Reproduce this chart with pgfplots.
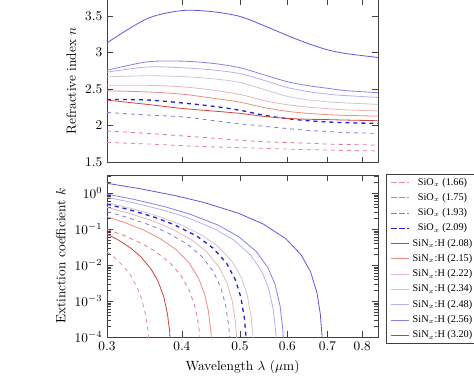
\documentclass[border=0pt]{standalone}
\usepackage{fontspec}
\usepackage{pgfplots}
\pgfplotsset{compat=1.18}
\newfontfamily\legfont{Liberation Serif}
\definecolor{cA}{RGB}{232,135,155}
\definecolor{cB}{RGB}{226,118,138}
\definecolor{cC}{RGB}{125,125,225}
\definecolor{cD}{RGB}{35,35,210}
\definecolor{cE}{RGB}{210,65,60}
\definecolor{cF}{RGB}{236,140,135}
\definecolor{cG}{RGB}{236,180,185}
\definecolor{cH}{RGB}{205,198,215}
\definecolor{cI}{RGB}{178,178,238}
\definecolor{cJ}{RGB}{130,130,232}
\definecolor{cK}{RGB}{90,90,222}
\begin{document}
\begin{tikzpicture}
\useasboundingbox (0,0) rectangle (355.5pt,286.5pt);
% top panel: refractive index
\begin{axis}[xmode=log, scale only axis, width=203.25pt, xmin=0.3, xmax=0.85,
  xtick={0.3,0.4,0.5,0.6,0.7,0.8}, minor xtick={},
  axis line style={black!75}, tick style={black!75},
  every axis plot/.append style={line width=0.6pt},
  at={(80.25pt,164.8pt)}, anchor=south west, height=122pt,
  ymin=1.5, ymax=3.72, ytick={1.5,2,2.5,3,3.5}, xticklabels={},
  ylabel={Refractive index $n$}]
\addplot[cA, dashed, smooth] coordinates {(0.3,1.77)(0.35,1.75)(0.4,1.727)(0.45,1.71)(0.5,1.70)(0.55,1.69)(0.6,1.68)(0.65,1.672)(0.7,1.667)(0.75,1.661)(0.85,1.655)};
\addplot[cB, dashed, smooth] coordinates {(0.3,1.926)(0.35,1.895)(0.4,1.86)(0.45,1.83)(0.5,1.80)(0.55,1.78)(0.6,1.77)(0.65,1.76)(0.7,1.748)(0.75,1.743)(0.85,1.735)};
\addplot[cC, dashed, smooth] coordinates {(0.3,2.18)(0.35,2.145)(0.4,2.12)(0.45,2.07)(0.5,2.025)(0.55,1.99)(0.6,1.96)(0.65,1.935)(0.7,1.92)(0.75,1.905)(0.85,1.895)};
\addplot[cD, dashed, smooth, line width=1pt] coordinates {(0.3,2.357)(0.35,2.35)(0.4,2.31)(0.45,2.265)(0.5,2.21)(0.55,2.14)(0.6,2.095)(0.65,2.067)(0.7,2.05)(0.75,2.04)(0.85,2.03)};
\addplot[cE, smooth] coordinates {(0.3,2.348)(0.35,2.29)(0.4,2.235)(0.45,2.20)(0.5,2.167)(0.55,2.125)(0.6,2.098)(0.65,2.087)(0.7,2.082)(0.75,2.076)(0.85,2.067)};
\addplot[cF, smooth] coordinates {(0.3,2.475)(0.35,2.46)(0.4,2.43)(0.45,2.375)(0.5,2.32)(0.55,2.245)(0.6,2.195)(0.65,2.167)(0.7,2.15)(0.75,2.14)(0.85,2.13)};
\addplot[cG, smooth] coordinates {(0.3,2.55)(0.35,2.55)(0.4,2.53)(0.45,2.485)(0.5,2.425)(0.55,2.34)(0.6,2.285)(0.65,2.252)(0.7,2.232)(0.75,2.215)(0.85,2.20)};
\addplot[cH, smooth] coordinates {(0.3,2.666)(0.35,2.68)(0.4,2.67)(0.45,2.64)(0.5,2.59)(0.55,2.49)(0.6,2.40)(0.65,2.352)(0.7,2.325)(0.75,2.31)(0.85,2.29)};
\addplot[cI, smooth] coordinates {(0.3,2.73)(0.35,2.80)(0.4,2.79)(0.45,2.76)(0.5,2.71)(0.55,2.615)(0.6,2.52)(0.65,2.465)(0.7,2.43)(0.75,2.41)(0.85,2.385)};
\addplot[cJ, smooth] coordinates {(0.3,2.756)(0.35,2.87)(0.4,2.88)(0.45,2.85)(0.5,2.79)(0.55,2.69)(0.6,2.60)(0.65,2.545)(0.7,2.51)(0.75,2.478)(0.85,2.45)};
\addplot[cK, smooth] coordinates {(0.3,3.13)(0.35,3.46)(0.4,3.57)(0.45,3.555)(0.5,3.49)(0.55,3.36)(0.6,3.23)(0.65,3.12)(0.7,3.035)(0.75,2.985)(0.85,2.93)};
\end{axis}
% bottom panel: extinction coefficient
\begin{axis}[xmode=log, ymode=log, scale only axis, width=203.25pt, xmin=0.3, xmax=0.85,
  xtick={0.3,0.4,0.5,0.6,0.7,0.8}, minor xtick={},
  axis line style={black!75}, tick style={black!75},
  every axis plot/.append style={line width=0.6pt},
  at={(80.25pt,33.75pt)}, anchor=south west, height=121.5pt,
  ymin=1e-4, ymax=3.162,
  xticklabels={0.3,0.4,0.5,0.6,0.7,0.8},
  xlabel={Wavelength $\lambda$ ($\mu$m)}, ylabel={Extinction coefficient $k$},
  legend style={at={(1.03,1.005)}, anchor=north west, font=\legfont\fontsize{7.7}{9}\selectfont,
    nodes={inner sep=0pt, text height=5.4pt, text depth=1.5pt},
    row sep=4.55pt, column sep=2.25pt, draw=black!75, inner xsep=3pt, inner ysep=2.6pt},
  legend cell align=center,
  legend image code/.code={\path (0pt,0pt) -- (13.5pt,0pt); \draw[#1] (1.5pt,0pt) -- (13.5pt,0pt);}]
\addplot[cA, dashed] coordinates {(0.3,0.0234)(0.3097,0.0155)(0.3201,0.00899)(0.3284,0.00519)(0.3371,0.00237)(0.3432,0.00107)(0.3482,0.000392)(0.3514,0.000135)(0.3534,0.0000442)};
\addlegendentry{SiO$_x$ (1.66)}
\addplot[cB, dashed] coordinates {(0.3,0.0977)(0.3197,0.0667)(0.3423,0.0401)(0.3614,0.0238)(0.3827,0.0112)(0.3984,0.00519)(0.4119,0.00193)(0.4209,0.000671)(0.4264,0.000222)(0.4302,0.0000560)};
\addlegendentry{SiO$_x$ (1.75)}
\addplot[cC, dashed] coordinates {(0.3,0.302)(0.3248,0.209)(0.3540,0.128)(0.3796,0.0773)(0.4093,0.0371)(0.4318,0.0174)(0.4516,0.00655)(0.4649,0.00229)(0.4733,0.000762)(0.4791,0.000193)(0.4820,0.0000485)};
\addlegendentry{SiO$_x$ (1.93)}
\addplot[cD, dashed, line width=1pt] coordinates {(0.3,0.490)(0.3274,0.342)(0.3603,0.212)(0.3897,0.129)(0.4243,0.0624)(0.4511,0.0294)(0.4750,0.0112)(0.4912,0.00393)(0.5016,0.00131)(0.5087,0.000332)(0.5123,0.0000836)};
\addlegendentry{SiO$_x$ (2.09)}
\addplot[cE] coordinates {(0.3,0.0724)(0.3140,0.0485)(0.3294,0.0286)(0.3419,0.0167)(0.3554,0.00773)(0.3651,0.00352)(0.3732,0.00130)(0.3784,0.000448)(0.3816,0.000148)(0.3838,0.0000371)};
\addlegendentry{SiN$_x$:H (2.08)}
\addplot[cF] coordinates {(0.3,0.219)(0.3216,0.150)(0.3466,0.0910)(0.3681,0.0543)(0.3924,0.0258)(0.4104,0.0120)(0.4261,0.00447)(0.4365,0.00156)(0.4430,0.000516)(0.4475,0.000131)(0.4497,0.0000328)};
\addlegendentry{SiN$_x$:H (2.15)}
\addplot[cG] coordinates {(0.3,0.398)(0.3259,0.277)(0.3567,0.170)(0.3840,0.103)(0.4157,0.0497)(0.4399,0.0233)(0.4614,0.00881)(0.4760,0.00310)(0.4852,0.00103)(0.4915,0.000261)(0.4947,0.0000656)};
\addlegendentry{SiN$_x$:H (2.22)}
\addplot[cH] coordinates {(0.3,0.537)(0.3285,0.376)(0.3630,0.234)(0.3940,0.143)(0.4309,0.0693)(0.4595,0.0329)(0.4854,0.0125)(0.5030,0.00442)(0.5142,0.00147)(0.5220,0.000374)(0.5260,0.0000942)};
\addlegendentry{SiN$_x$:H (2.34)}
\addplot[cI] coordinates {(0.3,0.759)(0.3320,0.537)(0.3716,0.338)(0.4082,0.209)(0.4527,0.103)(0.4882,0.0494)(0.5209,0.0190)(0.5436,0.00673)(0.5582,0.00226)(0.5684,0.000575)(0.5737,0.000145)(0.5763,0.0000365)};
\addlegendentry{SiN$_x$:H (2.48)}
\addplot[cJ] coordinates {(0.3,0.933)(0.3330,0.662)(0.3742,0.419)(0.4125,0.259)(0.4595,0.129)(0.4972,0.0618)(0.5322,0.0238)(0.5567,0.00849)(0.5725,0.00285)(0.5835,0.000726)(0.5892,0.000183)(0.5921,0.0000460)};
\addlegendentry{SiN$_x$:H (2.56)}
\addplot[cK] coordinates {(0.3,1.862)(0.3382,1.343)(0.3876,0.865)(0.4353,0.547)(0.4964,0.277)(0.5476,0.136)(0.5969,0.0533)(0.6325,0.0192)(0.6559,0.00652)(0.6725,0.00167)(0.6811,0.000423)(0.6855,0.000106)(0.6873,0.000038)};
\addlegendentry{SiN$_x$:H (3.20)}
\end{axis}
\end{tikzpicture}
\end{document}
